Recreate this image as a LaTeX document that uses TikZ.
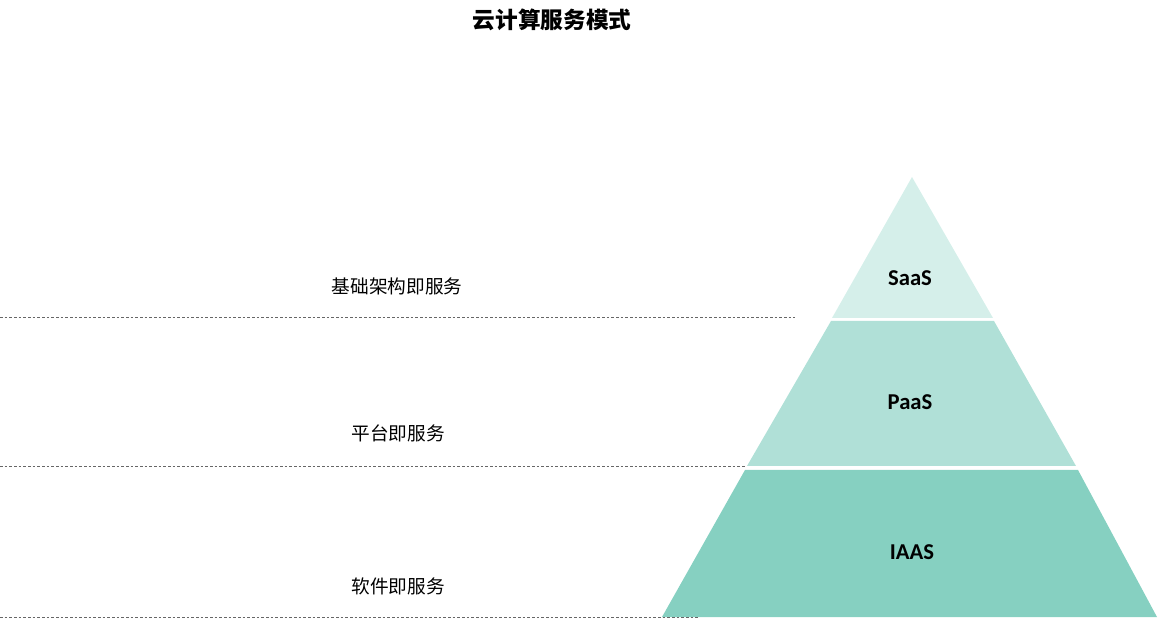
\documentclass[tikz,border=0pt]{standalone}
\usepackage{fontspec}
\newfontfamily\cjk{Noto Sans CJK SC}
\newfontfamily\lat{Carlito}
\definecolor{saas}{HTML}{D5EFEA}
\definecolor{paas}{HTML}{B0E0D7}
\definecolor{iaas}{HTML}{86D0C1}
\begin{document}
\begin{tikzpicture}[x=0.75pt,y=-0.75pt,
  lbl/.style={font=\cjk\fontsize{14}{16}\selectfont},
  tier/.style={font=\lat\bfseries\fontsize{17}{19}\selectfont},
  dline/.style={dashed,gray!80!black,line width=0.5pt,dash pattern=on 2pt off 1.5pt}]
\useasboundingbox (0,0) rectangle (1158,620);
\node[font=\cjk\bfseries\fontsize{17}{19}\selectfont] (title) at (552,20) {云计算服务模式};
% pyramid
\fill[saas] (912,177) -- (832,318) -- (993,318) -- cycle;
\fill[paas] (831,321) -- (994,321) -- (1076,466) -- (747,466) -- cycle;
\fill[iaas] (745,470) -- (1078,470) -- (1157,617) -- (662,617) -- cycle;
\node[tier] (s) at (910,278) {SaaS};
\node[tier] (p) at (910,402) {PaaS};
\node[tier] (i) at (912,552) {IAAS};
% dashed lines
\coordinate (a1) at (0,317); \coordinate (a2) at (795,317);
\coordinate (b1) at (0,466); \coordinate (b2) at (745,466);
\coordinate (c1) at (0,617); \coordinate (c2) at (700,617);
\draw[dline] (a1) -- (a2);
\draw[dline] (b1) -- (b2);
\draw[dline] (c1) -- (c2);
\node[lbl] (l1) at (397,286) {基础架构即服务};
\node[lbl] (l2) at (398,433) {平台即服务};
\node[lbl] (l3) at (398,586) {软件即服务};
\end{tikzpicture}
\end{document}
